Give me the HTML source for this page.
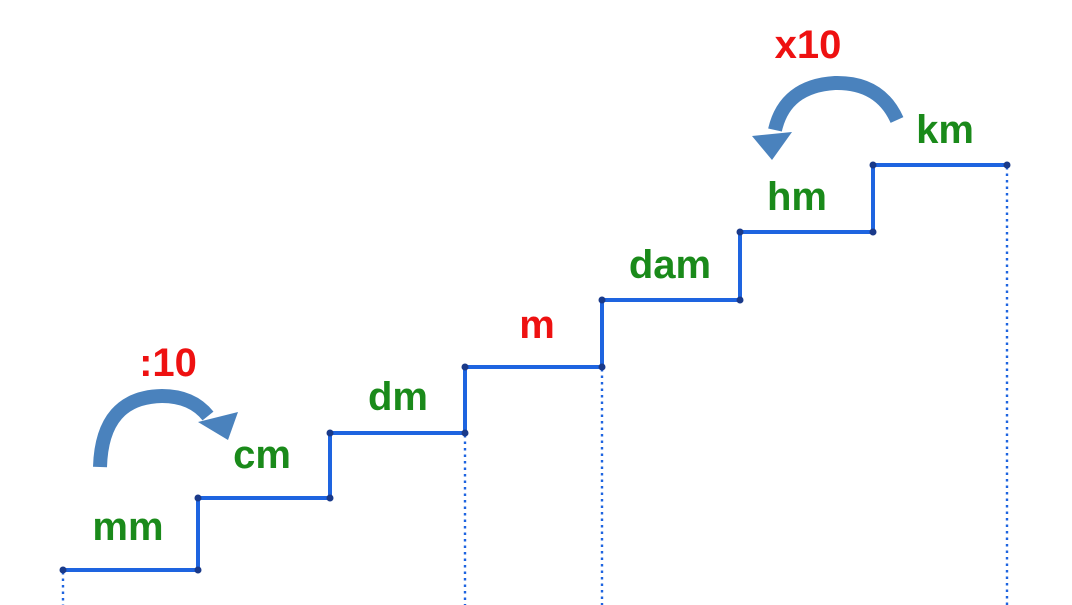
<!DOCTYPE html>
<html><head><meta charset="utf-8"><style>
html,body{margin:0;padding:0;background:#fff;}
svg{display:block}
text{font-family:"Comic Sans MS","Liberation Sans",sans-serif;font-size:40px;font-weight:bold;text-anchor:middle}
.g{fill:#1a8a1a}.r{fill:#ee1111}
</style></head><body>
<svg width="1072" height="605" viewBox="0 0 1072 605">
<g stroke="#1e64e0" stroke-width="2.4" stroke-dasharray="2.5,4" fill="none">
<line x1="63" y1="572" x2="63" y2="605"/>
<line x1="465" y1="435" x2="465" y2="605"/>
<line x1="602" y1="369" x2="602" y2="605"/>
<line x1="1007" y1="167" x2="1007" y2="605"/>
</g>
<polyline points="63,570 198,570 198,498 330,498 330,433 465,433 465,367 602,367 602,300 740,300 740,232 873,232 873,165 1007,165" fill="none" stroke="#1e64e0" stroke-width="4"/>
<g fill="#1a3a8a">
<circle cx="63" cy="570" r="3.5"/><circle cx="198" cy="570" r="3.5"/><circle cx="198" cy="498" r="3.5"/>
<circle cx="330" cy="498" r="3.5"/><circle cx="330" cy="433" r="3.5"/><circle cx="465" cy="433" r="3.5"/>
<circle cx="465" cy="367" r="3.5"/><circle cx="602" cy="367" r="3.5"/><circle cx="602" cy="300" r="3.5"/>
<circle cx="740" cy="300" r="3.5"/><circle cx="740" cy="232" r="3.5"/><circle cx="873" cy="232" r="3.5"/>
<circle cx="873" cy="165" r="3.5"/><circle cx="1007" cy="165" r="3.5"/>
</g>
<path d="M100,467 Q102,397 162,396 Q192,396 208,416" fill="none" stroke="#4a82bd" stroke-width="14"/>
<polygon points="198,422 238,412 228,440" fill="#4a82bd"/>
<path d="M897,120 Q880,82 835,83 Q785,86 775,130" fill="none" stroke="#4a82bd" stroke-width="14"/>
<polygon points="752,136 792,132 772,160" fill="#4a82bd"/>
<text x="128" y="540" class="g">mm</text>
<text x="262" y="468" class="g">cm</text>
<text x="398" y="410" class="g">dm</text>
<text x="537" y="338" class="r">m</text>
<text x="670" y="278" class="g">dam</text>
<text x="797" y="210" class="g">hm</text>
<text x="945" y="143" class="g">km</text>
<text x="168" y="376" class="r">:10</text>
<text x="808" y="58" class="r">x10</text>
</svg>
</body></html>
